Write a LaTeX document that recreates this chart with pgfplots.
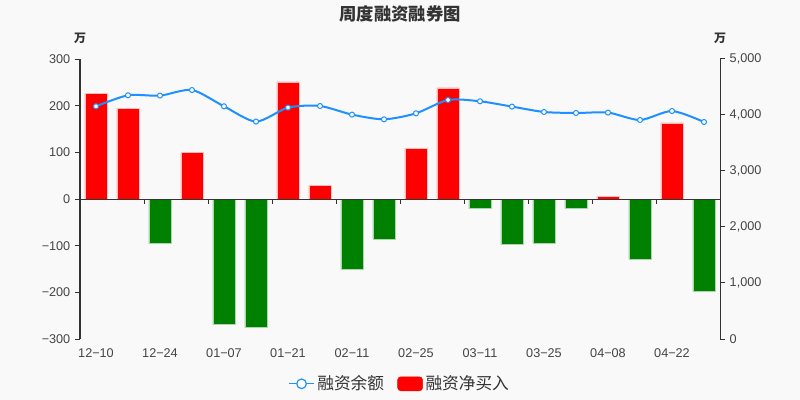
\documentclass[border=0pt]{standalone}
\usepackage{pgfplots}
\pgfplotsset{compat=1.18}
\usepackage{fontspec}
\setmainfont{Liberation Sans}
\newfontfamily\cjk{Noto Sans CJK SC}
\definecolor{bg}{HTML}{F9F9F9}
\definecolor{txt}{HTML}{333333}
\definecolor{ticktxt}{HTML}{444444}
\definecolor{lineblue}{HTML}{1E90FF}
\definecolor{barred}{HTML}{FF0000}
\definecolor{bargreen}{HTML}{008000}
\begin{document}
\begin{tikzpicture}
\fill[bg] (0,0) rectangle (600pt,300pt);
\useasboundingbox (0,0) rectangle (600pt,300pt);

% net buying, left axis
\begin{axis}[
  at={(60pt,45.75pt)}, anchor=south west,
  scale only axis, width=480pt, height=210pt,
  xmin=-0.5, xmax=19.5, ymin=-300, ymax=300,
  axis y line*=left, axis x line*=bottom,
  x axis line style={draw=none},
  y axis line style={txt, line width=0.75pt},
  xtick={0,2,...,18},
  xticklabels={12−10,12−24,01−07,01−21,02−11,02−25,03−11,03−25,04−08,04−22},
  xtick style={draw=none},
  ytick={-300,-200,...,300},
  yticklabels={−300,−200,−100,0,100,200,300},
  ytick style={txt, line width=0.75pt},
  tick align=outside, major tick length=3.75pt,
  tick label style={font=\fontsize{9.5}{11}\selectfont, text=ticktxt},
  ybar, bar width=0.69, bar shift=0pt,
  clip=false,
]
\addplot[fill=barred, draw={rgb,255:red,255;green,190;blue,190}, line width=0.5pt]
  coordinates {(0,226) (1,195) (3,99) (6,251) (7,29) (10,109) (11,238) (16,5) (18,163)};
\addplot[fill=bargreen, draw={rgb,255:red,170;green,215;blue,170}, line width=0.5pt]
  coordinates {(2,-96) (4,-269) (5,-276) (8,-150) (9,-86) (12,-21) (13,-98) (14,-94) (15,-20) (17,-129) (19,-198)};
\draw[txt, line width=0.75pt] (axis cs:-0.5,0) -- (axis cs:19.5,0);
\pgfplotsinvokeforeach{1.5,3.5,5.5,7.5,9.5,11.5,13.5,15.5,17.5}{
  \draw[txt, line width=0.75pt] (axis cs:#1,0) -- ++(0pt,-3.75pt);
}
\end{axis}

% financing balance, right axis
\begin{axis}[
  at={(60pt,45.75pt)}, anchor=south west,
  scale only axis, width=480pt, height=210pt,
  xmin=-0.5, xmax=19.5, ymin=0, ymax=5000,
  axis x line=none, axis y line*=right,
  y axis line style={txt, line width=0.75pt},
  ytick={0,1000,...,5000}, scaled y ticks=false,
  yticklabel style={/pgf/number format/1000 sep={,}},
  /pgf/number format/assume math mode=true,
  ytick style={txt, line width=0.75pt},
  tick align=outside, major tick length=3.75pt,
  tick label style={font=\fontsize{9.5}{11}\selectfont, text=ticktxt},
  legend style={at={(0.5,-0.16)}, anchor=center, draw=none, fill=none,
    legend columns=2, font=\cjk\fontsize{12.5}{14}\selectfont, text=txt,
    /tikz/every even column/.append style={column sep=8pt}},
  clip=false,
]
\addplot[lineblue, line width=1.5pt, smooth, tension=0.45,
  mark=*, mark size=1.9pt, mark options={fill=white, draw=lineblue, line width=0.75pt},
  legend image code/.code={
    \draw[lineblue, line width=0.9pt] (0pt,0pt) -- (18.75pt,0pt);
    \draw[lineblue, fill=white, line width=0.9pt] (9.375pt,0pt) circle (3.6pt);}]
  coordinates {(0,4155) (1,4352) (2,4346) (3,4446) (4,4155) (5,3882) (6,4132) (7,4161)
    (8,4007) (9,3923) (10,4030) (11,4268) (12,4245) (13,4150) (14,4054) (15,4036)
    (16,4043) (17,3911) (18,4071) (19,3875)};
\addlegendentry{融资余额}
\addlegendimage{legend image code/.code={
    \fill[barred, rounded corners=2.5pt] (0pt,-5.25pt) rectangle (18.75pt,5.25pt);}}
\addlegendentry{融资净买入}
\end{axis}

\node[text=txt, font=\cjk\bfseries\fontsize{13}{15}\selectfont] at (300pt,289.5pt) {周度融资融券图};
\node[text=txt, font=\cjk\bfseries\fontsize{9}{10}\selectfont] at (60pt,271.5pt) {万};
\node[text=txt, font=\cjk\bfseries\fontsize{9}{10}\selectfont] at (540pt,271.5pt) {万};
\end{tikzpicture}
\end{document}
